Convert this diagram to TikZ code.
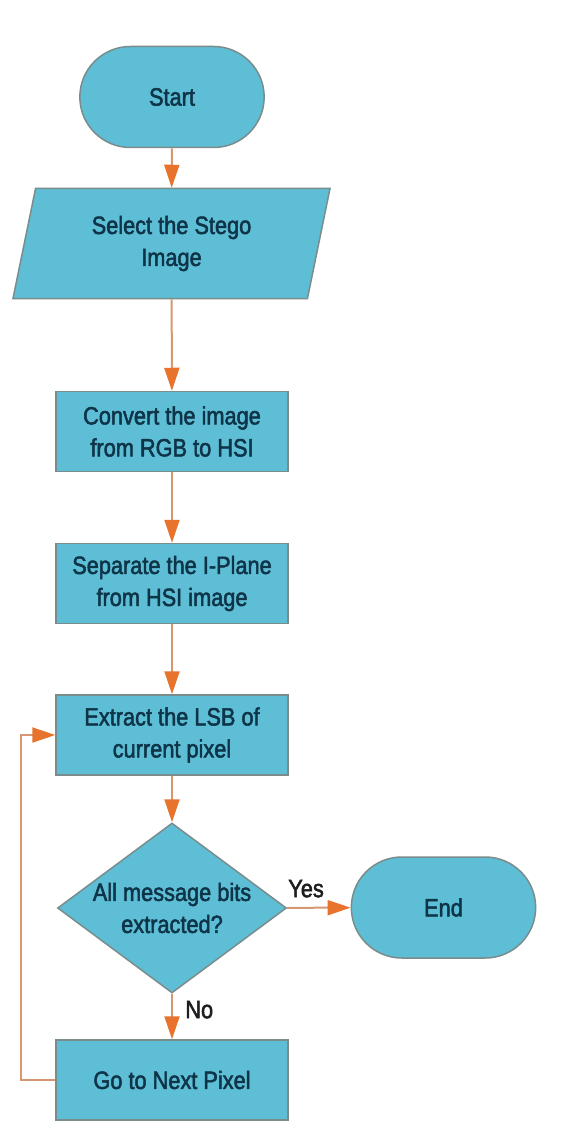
\documentclass[tikz,border=0pt]{standalone}
\usepackage{fontspec}
\setmainfont[FakeStretch=0.87,FakeBold=2]{Liberation Sans}
\usepackage{tikz}
\usetikzlibrary{shapes.geometric}
\usetikzlibrary{shapes.misc}
\usetikzlibrary{arrows.meta}

\definecolor{boxfill}{RGB}{94,190,214}
\definecolor{boxedge}{RGB}{122,140,140}
\definecolor{boxtext}{RGB}{14,52,72}
\definecolor{flowline}{RGB}{214,152,112}
\definecolor{arrowhead}{RGB}{232,115,45}
\definecolor{lbltext}{RGB}{30,30,30}

\tikzset{
    base/.style={draw=boxedge, line width=1.5pt, fill=boxfill, text=boxtext,
        font=\fontsize{25}{32}\selectfont, align=center},
    term/.style={base, rounded rectangle, minimum width=191pt, minimum height=101pt},
    io/.style={base, trapezium, trapezium left angle=70, trapezium right angle=110,
        trapezium stretches body, minimum width=317pt, minimum height=110pt},
    proc/.style={base, rectangle, minimum width=232pt, minimum height=80pt},
    decision/.style={base, diamond, aspect=1.35, inner sep=-6pt,
        minimum width=229pt, minimum height=170pt},
    flow/.style={draw=flowline, line width=2pt,
        -{Triangle[length=23pt,width=15pt,color=arrowhead]}},
    lbl/.style={text=lbltext, font=\fontsize{25}{32}\selectfont}
}

\begin{document}
\begin{tikzpicture}[x=1pt,y=-1pt]
            \fill[white] (0,0) rectangle (570,1123);
            \useasboundingbox (0,0) rectangle (570,1123);

            % Place the main column
            \node[term] (start) at (172,97) {Start};
            \node[io] (sel) at (171.5,243.5) {Select the Stego\\Image};
            \node[proc] (conv) at (172,431.5) {Convert the image\\from RGB to HSI};
            \node[proc] (sep) at (172,583.5) {Separate the I-Plane\\from HSI image};
            \node[proc] (ext) at (172,735) {Extract the LSB of\\current pixel};
            \node[decision] (chk) at (172,908) {All message bits\\extracted?};
            \node[proc] (next) at (172,1080) {Go to Next Pixel};

            % Place the end node
            \node[term] (end) at (443.5,907.5) {End};
            \coordinate (loop) at (21,1080);

            % The lines!
            \draw[flow] (start) -- (sel);
            \draw[flow] (sel) -- (conv);
            \draw[flow] (conv) -- (sep);
            \draw[flow] (sep) -- (ext);
            \draw[flow] (ext) -- (chk);
            \draw[flow] (chk) -- node[lbl, above, pos=0.3, yshift=6pt] (yes) {Yes} (end);
            \draw[flow] (chk) -- node[lbl, right, pos=0.35, xshift=9pt] (no) {No} (next);
            \draw[flow] (next.west) -- (loop) |- (ext.west);
        \end{tikzpicture}
\end{document}
